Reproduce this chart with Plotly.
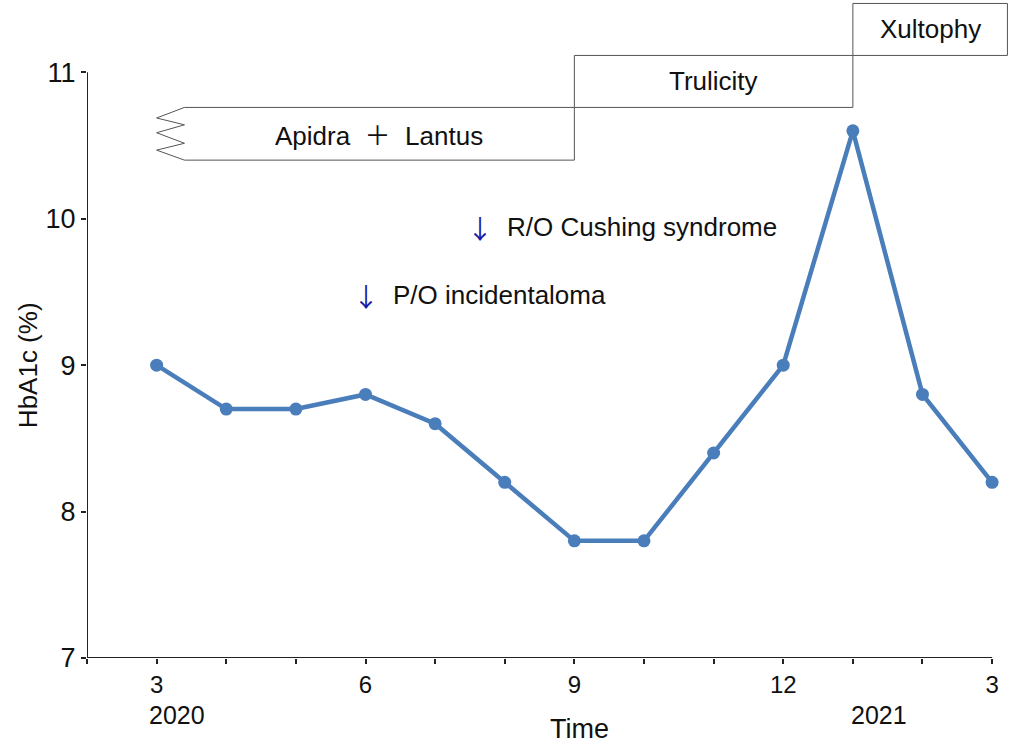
import plotly.graph_objects as go

# ---- data ----
month_labels = ["3", "4", "5", "6", "7", "8", "9", "10", "11", "12", "1", "2", "3"]
hba1c = [9.0, 8.7, 8.7, 8.8, 8.6, 8.2, 7.8, 7.8, 8.4, 9.0, 10.6, 8.8, 8.2]
shown_ticks = ["3", "", "", "6", "", "", "9", "", "", "12", "", "", "3"]
years = ["2020", "2021"]
year_months = [3, 13]

# treatment periods (start, end in month index; y band)
treat_names = ["Apidra  <span style='font-family:Noto Sans CJK JP'>＋</span>  Lantus",
               "Trulicity", "Xultophy"]
treat_start = [3.0, 9.0, 13.0]
treat_end = [9.0, 13.0, 15.22]
treat_low = [10.40, 10.76, 11.115]
treat_high = [10.76, 11.115, 11.47]

event_names = ["P/O incidentaloma", "R/O Cushing syndrome"]
event_x = [6.0, 7.65]
event_y = [9.477, 9.941]

x_pos = list(range(3, 3 + len(hba1c)))
tick_vals = list(range(2, 3 + len(hba1c)))
tick_text = [""] + shown_ticks

TXT = "#111111"
FONT = "Liberation Sans, Arial"
fig = go.Figure()
fig.add_trace(go.Scatter(
    x=x_pos, y=hba1c, mode="lines+markers",
    line=dict(color="#4a7ebb", width=4.5),
    marker=dict(color="#4a7ebb", size=13),
    showlegend=False, cliponaxis=False,
))

shapes = []
ann = []
axis_col = "#222222"
# axis lines (kept to the 7-11 / 2-15 extent)
shapes.append(dict(type="line", xref="x", yref="y", x0=2, x1=x_pos[-1], y0=7, y1=7,
                   line=dict(color=axis_col, width=2)))
shapes.append(dict(type="line", xref="x", yref="y", x0=2, x1=2, y0=7, y1=11,
                   line=dict(color=axis_col, width=2)))

box_line = dict(color="#555555", width=1)
for i, name in enumerate(treat_names):
    x0, x1, y0, y1 = treat_start[i], treat_end[i], treat_low[i], treat_high[i]
    if i == 0:
        zx = x0 + 0.4
        h = (y1 - y0)
        pts = [(zx, y1), (x1, y1), (x1, y0), (zx, y0),
               (x0, y0 + h * 0.19), (zx, y0 + h * 0.32), (x0, y0 + h * 0.52),
               (zx, y0 + h * 0.67), (x0, y0 + h * 0.80)]
        path = "M" + " L".join(f"{a},{b}" for a, b in pts) + " Z"
        shapes.append(dict(type="path", xref="x", yref="y", path=path,
                           line=box_line, fillcolor="rgba(0,0,0,0)"))
        cx = (zx + x1) / 2
    else:
        shapes.append(dict(type="rect", xref="x", yref="y", x0=x0, x1=x1, y0=y0, y1=y1,
                           line=box_line, fillcolor="rgba(0,0,0,0)"))
        cx = (x0 + x1) / 2
    ann.append(dict(x=cx, y=(y0 + y1) / 2, xref="x", yref="y", text=name, showarrow=False,
                    font=dict(size=26, color=TXT, family=FONT)))

for name, ex, ey in zip(event_names, event_x, event_y):
    ann.append(dict(x=ex, y=ey, xref="x", yref="y", xanchor="center", showarrow=False,
                    text="↓", font=dict(size=26, color="#1a1aa8", family="Noto Sans CJK JP")))
    ann.append(dict(x=ex, y=ey, xref="x", yref="y", xanchor="left", xshift=25,
                    showarrow=False, text=name,
                    font=dict(size=26, color=TXT, family=FONT)))

year_shift = [20, 26]
for yr, xm, xs in zip(years, year_months, year_shift):
    ann.append(dict(x=xm, y=0, xref="x", yref="paper", text=yr, showarrow=False,
                    xanchor="center", yanchor="middle", xshift=xs, yshift=-57,
                    font=dict(size=25, color=TXT, family=FONT)))
ann.append(dict(x=9, y=0, xref="x", yref="paper", text="Time", showarrow=False,
                xanchor="center", yanchor="middle", xshift=5, yshift=-71,
                font=dict(size=27, color=TXT, family=FONT)))
ann.append(dict(x=0, y=(9 - 7) / 4.48, xref="paper", yref="paper", text="HbA1c (%)",
                showarrow=False, textangle=-90, xanchor="center", yanchor="middle",
                xshift=-59, font=dict(size=26, color=TXT, family=FONT)))

fig.update_layout(
    width=1024, height=748,
    margin=dict(l=87, r=11, t=2, b=90, autoexpand=False),
    paper_bgcolor="white", plot_bgcolor="white",
    shapes=shapes, annotations=ann,
    xaxis=dict(range=[2, 15.3], tickmode="array", tickvals=tick_vals, ticktext=tick_text,
               showgrid=False, zeroline=False, showline=False, automargin=False,
               ticks="outside", ticklen=5, tickwidth=1.5, tickcolor=axis_col,
               tickfont=dict(size=24, color=TXT, family=FONT)),
    yaxis=dict(range=[7, 11.48], tickmode="array", tickvals=[7, 8, 9, 10, 11],
               showgrid=False, zeroline=False, showline=False, automargin=False,
               ticks="outside", ticklen=5, tickwidth=1.5, tickcolor=axis_col,
               tickfont=dict(size=27, color=TXT, family=FONT)),
    font=dict(family=FONT),
)

fig.write_html("out.html", config={"displayModeBar": False},
               post_script="document.body.style.margin='0';")
